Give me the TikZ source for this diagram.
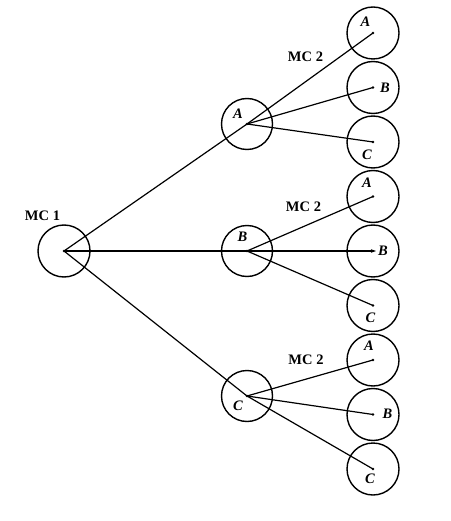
\documentclass[tikz,border=0pt]{standalone}
\usepackage{fontspec}
\setmainfont{Liberation Serif}
\usetikzlibrary{arrows.meta}
\begin{document}
\begin{tikzpicture}[x=1pt,y=-1pt,
  ball/.style={circle,draw,line width=1.4pt,minimum size=51pt,inner sep=0pt},
  ballr/.style={circle,draw,line width=1.4pt,minimum size=52pt,inner sep=0pt},
  edge/.style={line width=1.2pt},
  lab/.style={font=\fontsize{14.5}{14.5}\selectfont\bfseries\itshape,inner sep=0pt},
  mc/.style={font=\fontsize{14.5}{14.5}\selectfont\bfseries,inner sep=0pt},
  tipdot/.style={circle,fill,inner sep=0pt,minimum size=2.8pt}]
\useasboundingbox (0,0) rectangle (450,521);
% root
\node[ball,minimum size=52pt] (r) at (64,251) {};
\node[mc] (mc1) at (42.5,216) {MC 1};
% middle
\node[ball] (mA) at (247,124) {};
\node[ball] (mB) at (247,251) {};
\node[ball] (mC) at (247,396) {};
\node[lab] (lmA) at (238,114) {A};
\node[lab] (lmB) at (242.5,237) {B};
\node[lab] (lmC) at (238,405.5) {C};
% right
\foreach \n/\y in {aA/33,aB/87.5,aC/142,bA/196.5,bB/251,bC/305.5,cA/360,cB/414.5,cC/469}{
  \node[ballr] (\n) at (373,\y) {};
}
\node[lab] at (365.5,21.5) {A};
\node[lab] at (385,88) {B};
\node[lab] at (367,155) {C};
\node[lab] at (367,183) {A};
\node[lab] at (383,251) {B};
\node[lab] at (370.5,318) {C};
\node[lab] at (369,346) {A};
\node[lab] at (387.5,414) {B};
\node[lab] at (370,479) {C};
% MC 2 labels
\node[mc] (mc2a) at (305.5,57) {MC 2};
\node[mc] (mc2b) at (303.5,207) {MC 2};
\node[mc] (mc2c) at (306,359.5) {MC 2};
% edges from root
\draw[edge] (r.center) -- (mA.center);
\draw[edge] (r.center) -- (mB.center);
\draw[edge] (r.center) -- (mC.center);
% edges to right
\foreach \m/\t in {mA/aA,mA/aB,mA/aC,mB/bA,mB/bC,mC/cA,mC/cB,mC/cC}{
  \draw[edge] (\m.center) -- (\t.center);
  \node[tipdot] at (\t.center) {};
}
\draw[edge,-{Stealth[length=5pt,width=3.5pt]}] (mB.center) -- ([xshift=3pt]bB.center);
\node[tipdot] at (r.center) {};
\node[tipdot] at (mA.center) {};
\node[tipdot] at (mB.center) {};
\node[tipdot] at (mC.center) {};
\end{tikzpicture}
\end{document}
